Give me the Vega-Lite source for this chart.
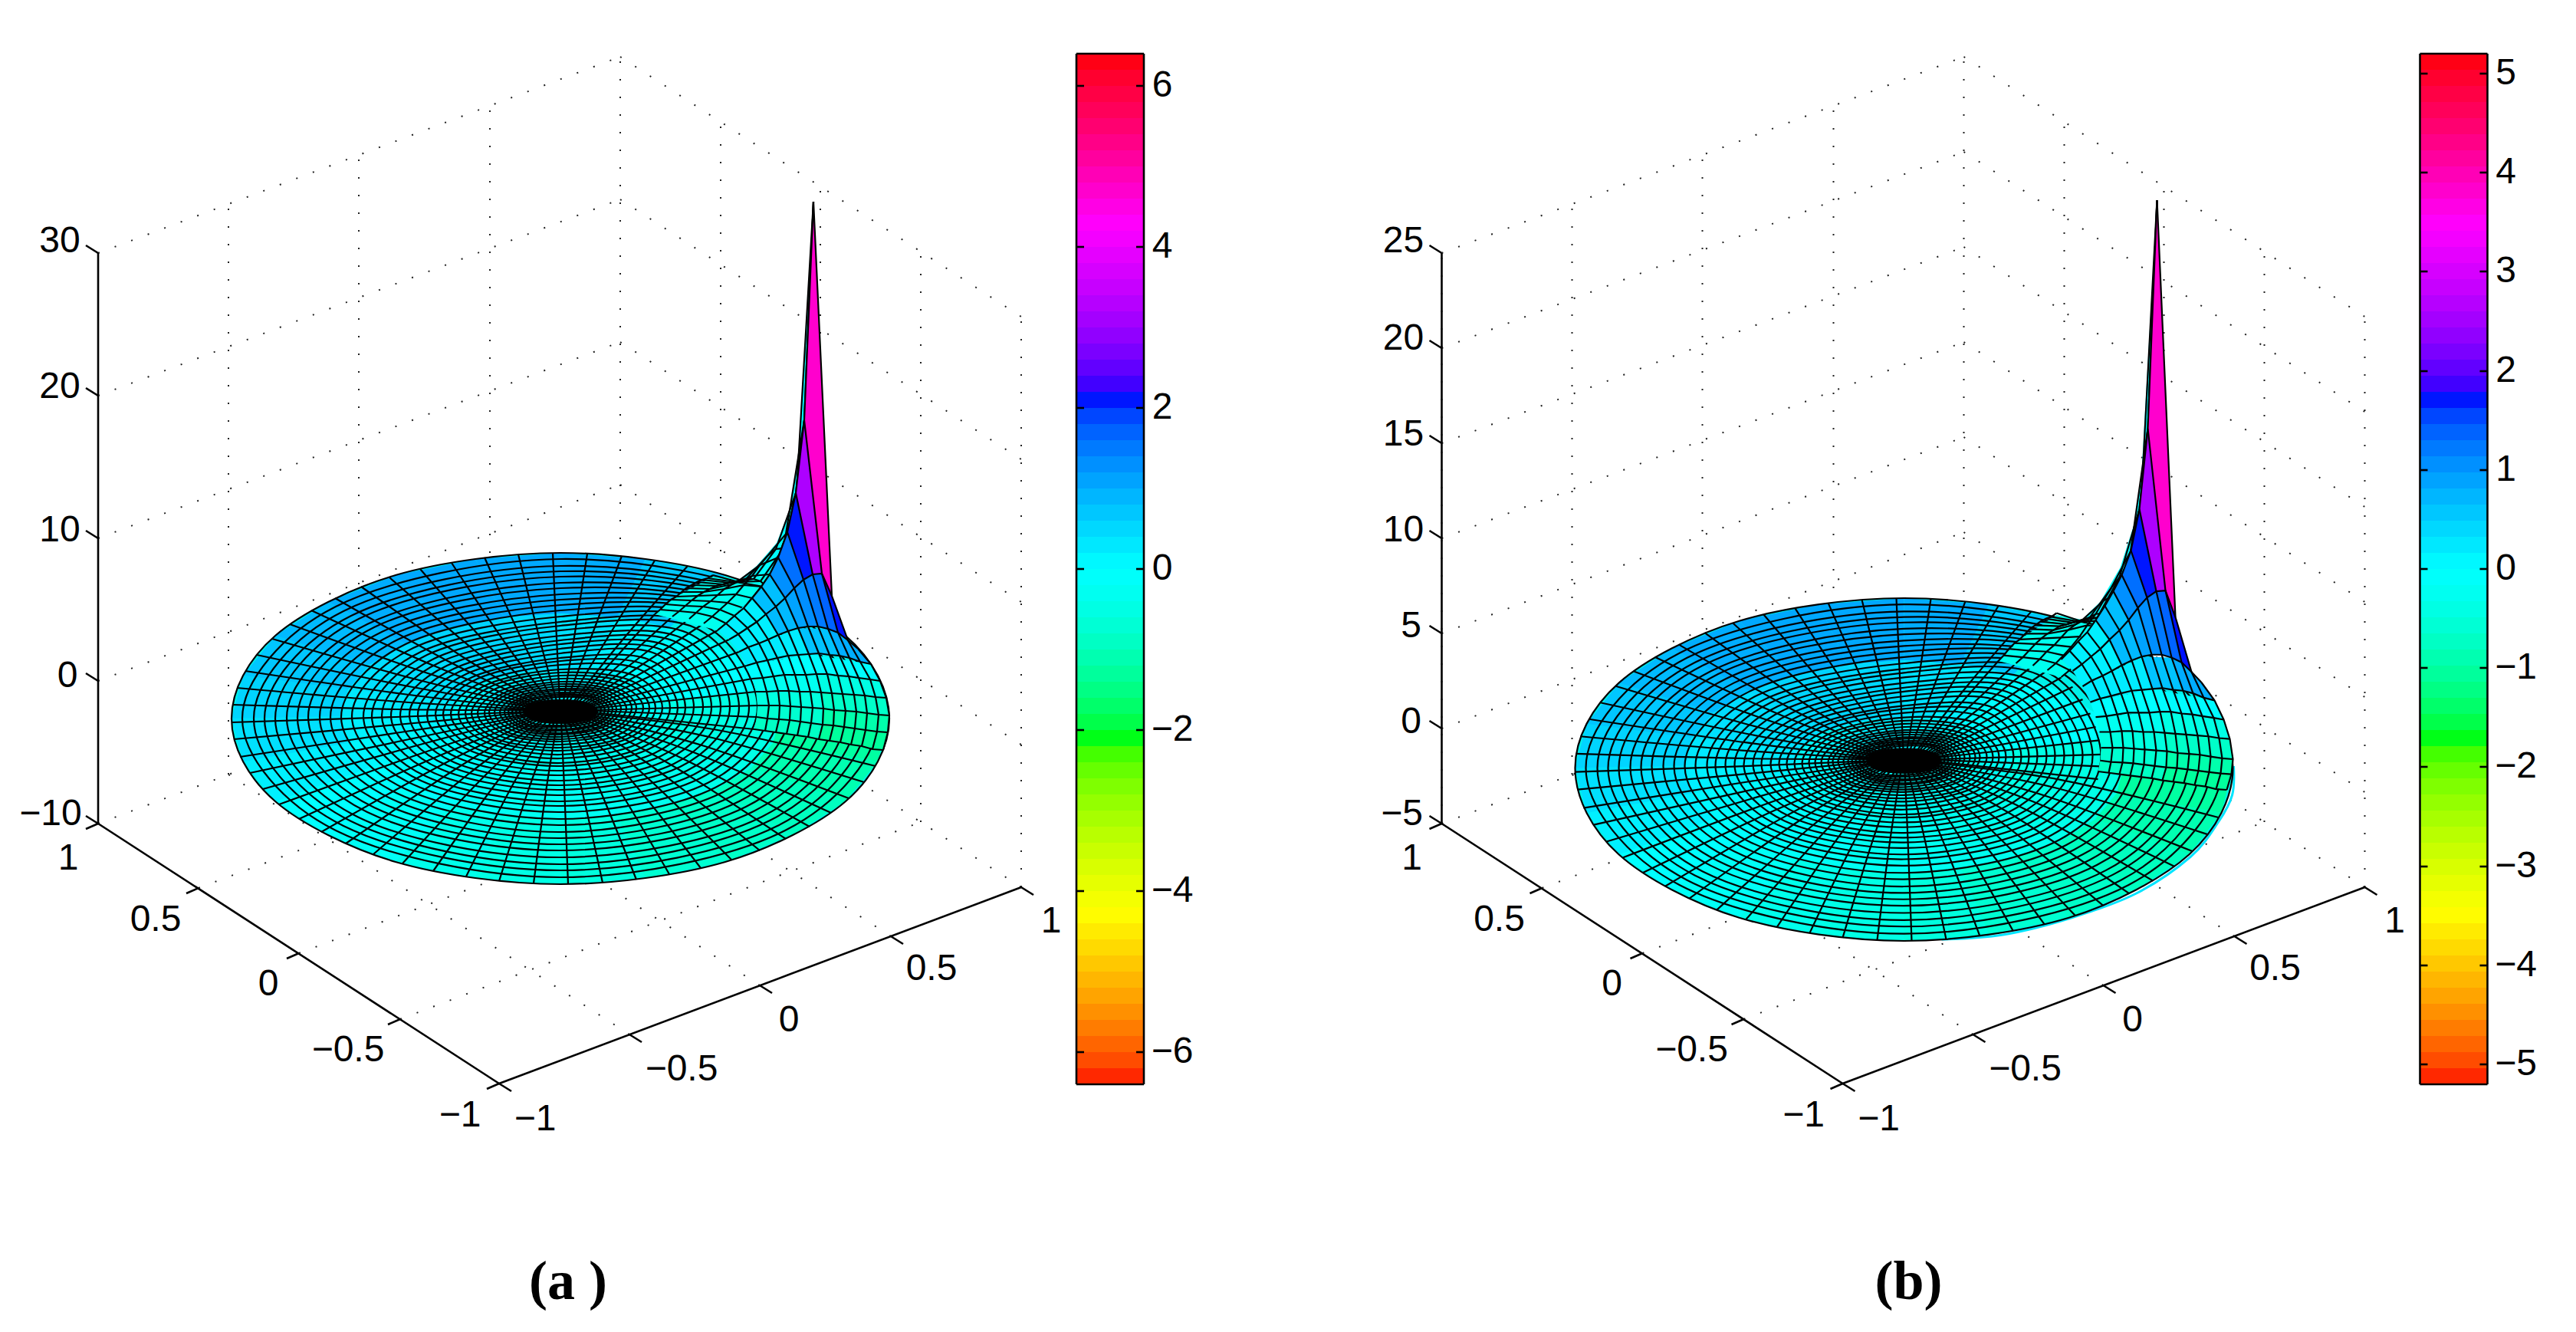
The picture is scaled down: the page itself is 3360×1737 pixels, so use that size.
{"$schema":"https://vega.github.io/schema/vega-lite/v6.json","padding":0,"spacing":0,"background":"white","config":{"view":{"stroke":null},"concat":{"spacing":0}},
"datasets":{
"dots":[{"x":128,"y":1074,"x2":128,"y2":330},{"x":298,"y":1010,"x2":298,"y2":266},{"x":468,"y":946,"x2":468,"y2":202},{"x":639,"y":882,"x2":639,"y2":138},{"x":809,"y":818,"x2":809,"y2":74},{"x":940,"y":903,"x2":940,"y2":159},{"x":1070,"y":987,"x2":1070,"y2":243},{"x":1201,"y":1072,"x2":1201,"y2":328},{"x":1332,"y":1157,"x2":1332,"y2":413},{"x":259,"y":1158,"x2":940,"y2":903},{"x":390,"y":1243,"x2":1070,"y2":987},{"x":522,"y":1329,"x2":1201,"y2":1072},{"x":821,"y":1349,"x2":298,"y2":1010},{"x":991,"y":1285,"x2":468,"y2":946},{"x":1162,"y":1221,"x2":639,"y2":882}],
"la":[{"x":128,"y":330,"x2":809,"y2":74},{"x":809,"y":74,"x2":1332,"y2":413},{"x":128,"y":516,"x2":809,"y2":260},{"x":809,"y":260,"x2":1332,"y2":599},{"x":128,"y":702,"x2":809,"y2":446},{"x":809,"y":446,"x2":1332,"y2":785},{"x":128,"y":888,"x2":809,"y2":632},{"x":809,"y":632,"x2":1332,"y2":971},{"x":128,"y":1074,"x2":809,"y2":818},{"x":809,"y":818,"x2":1332,"y2":1157}],
"lb":[{"x":128,"y":330,"x2":809,"y2":74},{"x":809,"y":74,"x2":1332,"y2":413},{"x":128,"y":454,"x2":809,"y2":198},{"x":809,"y":198,"x2":1332,"y2":537},{"x":128,"y":578,"x2":809,"y2":322},{"x":809,"y":322,"x2":1332,"y2":661},{"x":128,"y":702,"x2":809,"y2":446},{"x":809,"y":446,"x2":1332,"y2":785},{"x":128,"y":826,"x2":809,"y2":570},{"x":809,"y":570,"x2":1332,"y2":909},{"x":128,"y":950,"x2":809,"y2":694},{"x":809,"y":694,"x2":1332,"y2":1033},{"x":128,"y":1074,"x2":809,"y2":818},{"x":809,"y":818,"x2":1332,"y2":1157}],
"ax":[{"x":128,"y":330,"x2":128,"y2":1074},{"x":128,"y":1074,"x2":651,"y2":1413},{"x":651,"y":1413,"x2":1332,"y2":1157},{"x":128,"y":1074,"x2":112,"y2":1081},{"x":259,"y":1158,"x2":243,"y2":1165},{"x":390,"y":1243,"x2":374,"y2":1250},{"x":522,"y":1329,"x2":506,"y2":1336},{"x":651,"y":1413,"x2":635,"y2":1420},{"x":651,"y":1413,"x2":667,"y2":1423},{"x":821,"y":1349,"x2":837,"y2":1359},{"x":991,"y":1285,"x2":1007,"y2":1295},{"x":1162,"y":1221,"x2":1178,"y2":1231},{"x":1332,"y":1157,"x2":1348,"y2":1167},{"x":1404,"y":70,"x2":1492,"y2":70},{"x":1404,"y":1414,"x2":1492,"y2":1414},{"x":1404,"y":70,"x2":1404,"y2":1414},{"x":1492,"y":70,"x2":1492,"y2":1414}],
"ta":[{"x":128,"y":330,"x2":112,"y2":320},{"x":128,"y":516,"x2":112,"y2":506},{"x":128,"y":702,"x2":112,"y2":692},{"x":128,"y":888,"x2":112,"y2":878},{"x":128,"y":1074,"x2":112,"y2":1064},{"x":1404,"y":112,"x2":1414,"y2":112},{"x":1482,"y":112,"x2":1492,"y2":112},{"x":1404,"y":322,"x2":1414,"y2":322},{"x":1482,"y":322,"x2":1492,"y2":322},{"x":1404,"y":532,"x2":1414,"y2":532},{"x":1482,"y":532,"x2":1492,"y2":532},{"x":1404,"y":742,"x2":1414,"y2":742},{"x":1482,"y":742,"x2":1492,"y2":742},{"x":1404,"y":952,"x2":1414,"y2":952},{"x":1482,"y":952,"x2":1492,"y2":952},{"x":1404,"y":1162,"x2":1414,"y2":1162},{"x":1482,"y":1162,"x2":1492,"y2":1162},{"x":1404,"y":1372,"x2":1414,"y2":1372},{"x":1482,"y":1372,"x2":1492,"y2":1372}],
"tb":[{"x":128,"y":330,"x2":112,"y2":320},{"x":128,"y":454,"x2":112,"y2":444},{"x":128,"y":578,"x2":112,"y2":568},{"x":128,"y":702,"x2":112,"y2":692},{"x":128,"y":826,"x2":112,"y2":816},{"x":128,"y":950,"x2":112,"y2":940},{"x":128,"y":1074,"x2":112,"y2":1064},{"x":1404,"y":96,"x2":1414,"y2":96},{"x":1482,"y":96,"x2":1492,"y2":96},{"x":1404,"y":225,"x2":1414,"y2":225},{"x":1482,"y":225,"x2":1492,"y2":225},{"x":1404,"y":354,"x2":1414,"y2":354},{"x":1482,"y":354,"x2":1492,"y2":354},{"x":1404,"y":484,"x2":1414,"y2":484},{"x":1482,"y":484,"x2":1492,"y2":484},{"x":1404,"y":613,"x2":1414,"y2":613},{"x":1482,"y":613,"x2":1492,"y2":613},{"x":1404,"y":742,"x2":1414,"y2":742},{"x":1482,"y":742,"x2":1492,"y2":742},{"x":1404,"y":871,"x2":1414,"y2":871},{"x":1482,"y":871,"x2":1492,"y2":871},{"x":1404,"y":1000,"x2":1414,"y2":1000},{"x":1482,"y":1000,"x2":1492,"y2":1000},{"x":1404,"y":1130,"x2":1414,"y2":1130},{"x":1482,"y":1130,"x2":1492,"y2":1130},{"x":1404,"y":1259,"x2":1414,"y2":1259},{"x":1482,"y":1259,"x2":1492,"y2":1259},{"x":1404,"y":1388,"x2":1414,"y2":1388},{"x":1482,"y":1388,"x2":1492,"y2":1388}],
"txa":[{"x":78,"y":315,"t":"30"},{"x":78,"y":505,"t":"20"},{"x":78,"y":692,"t":"10"},{"x":88,"y":882,"t":"0"},{"x":66,"y":1062,"t":"−10"},{"x":89,"y":1120,"t":"1"},{"x":203,"y":1200,"t":"0.5"},{"x":350,"y":1284,"t":"0"},{"x":454,"y":1370,"t":"−0.5"},{"x":600,"y":1455,"t":"−1"},{"x":698,"y":1460,"t":"−1"},{"x":889,"y":1395,"t":"−0.5"},{"x":1029,"y":1331,"t":"0"},{"x":1215,"y":1264,"t":"0.5"},{"x":1371,"y":1202,"t":"1"},{"x":1516,"y":112,"t":"6"},{"x":1516,"y":322,"t":"4"},{"x":1516,"y":532,"t":"2"},{"x":1516,"y":742,"t":"0"},{"x":1529,"y":952,"t":"−2"},{"x":1529,"y":1162,"t":"−4"},{"x":1529,"y":1372,"t":"−6"}],
"txb":[{"x":78,"y":315,"t":"25"},{"x":78,"y":442,"t":"20"},{"x":78,"y":567,"t":"15"},{"x":78,"y":692,"t":"10"},{"x":88,"y":817,"t":"5"},{"x":88,"y":942,"t":"0"},{"x":76,"y":1062,"t":"−5"},{"x":89,"y":1120,"t":"1"},{"x":203,"y":1200,"t":"0.5"},{"x":350,"y":1284,"t":"0"},{"x":454,"y":1370,"t":"−0.5"},{"x":600,"y":1455,"t":"−1"},{"x":698,"y":1460,"t":"−1"},{"x":889,"y":1395,"t":"−0.5"},{"x":1029,"y":1331,"t":"0"},{"x":1215,"y":1264,"t":"0.5"},{"x":1371,"y":1202,"t":"1"},{"x":1516,"y":96,"t":"5"},{"x":1516,"y":225,"t":"4"},{"x":1516,"y":354,"t":"3"},{"x":1516,"y":484,"t":"2"},{"x":1516,"y":613,"t":"1"},{"x":1516,"y":742,"t":"0"},{"x":1529,"y":871,"t":"−1"},{"x":1529,"y":1000,"t":"−2"},{"x":1529,"y":1130,"t":"−3"},{"x":1529,"y":1259,"t":"−4"},{"x":1529,"y":1388,"t":"−5"}],
"sl":[{"x":1161,"y":999},{"x":1159,"y":1037},{"x":1141,"y":1072},{"x":1105,"y":1117},{"x":1034,"y":1165},{"x":949,"y":1197},{"x":860,"y":1219},{"x":780,"y":1225}],
"bar":[{"v":6.3},{"v":6.1},{"v":5.9},{"v":5.7},{"v":5.5},{"v":5.3},{"v":5.1},{"v":4.9},{"v":4.7},{"v":4.5},{"v":4.3},{"v":4.1},{"v":3.9},{"v":3.7},{"v":3.5},{"v":3.3},{"v":3.1},{"v":2.9},{"v":2.7},{"v":2.5},{"v":2.3},{"v":2.1},{"v":1.9},{"v":1.7},{"v":1.5},{"v":1.3},{"v":1.1},{"v":0.9},{"v":0.7},{"v":0.5},{"v":0.3},{"v":0.1},{"v":-0.1},{"v":-0.3},{"v":-0.5},{"v":-0.7},{"v":-0.9},{"v":-1.1},{"v":-1.3},{"v":-1.5},{"v":-1.7},{"v":-1.9},{"v":-2.1},{"v":-2.3},{"v":-2.5},{"v":-2.7},{"v":-2.9},{"v":-3.1},{"v":-3.3},{"v":-3.5},{"v":-3.7},{"v":-3.9},{"v":-4.1},{"v":-4.3},{"v":-4.5},{"v":-4.7},{"v":-4.9},{"v":-5.1},{"v":-5.3},{"v":-5.5},{"v":-5.7},{"v":-5.9},{"v":-6.1},{"v":-6.3}],
"ring":[
{"k":0,"x":1160,"y":937},{"k":0,"x":1145,"y":993},{"k":0,"x":1103,"y":1045},{"k":0,"x":1034,"y":1089},{"k":0,"x":946,"y":1124},{"k":0,"x":842,"y":1145},{"k":0,"x":731,"y":1153},{"k":0,"x":620,"y":1145},{"k":0,"x":516,"y":1124},{"k":0,"x":428,"y":1089},{"k":0,"x":359,"y":1045},{"k":0,"x":317,"y":993},{"k":0,"x":302,"y":937},{"k":0,"x":317,"y":881},{"k":0,"x":359,"y":829},{"k":0,"x":428,"y":785},{"k":0,"x":516,"y":750},{"k":0,"x":620,"y":729},{"k":0,"x":731,"y":721},{"k":0,"x":842,"y":729},{"k":0,"x":946,"y":750},{"k":0,"x":1034,"y":785},{"k":0,"x":1103,"y":829},{"k":0,"x":1145,"y":881},
{"k":1,"x":1146,"y":935},{"k":1,"x":1024,"y":1083},{"k":1,"x":731,"y":1144},{"k":1,"x":438,"y":1083},{"k":1,"x":316,"y":937},{"k":1,"x":438,"y":791},{"k":1,"x":731,"y":729},{"k":1,"x":1024,"y":785},
{"k":2,"x":1131,"y":934},{"k":2,"x":1014,"y":1077},{"k":2,"x":731,"y":1135},{"k":2,"x":448,"y":1077},{"k":2,"x":331,"y":937},{"k":2,"x":448,"y":797},{"k":2,"x":731,"y":738},{"k":2,"x":1014,"y":788},
{"k":3,"x":1117,"y":932},{"k":3,"x":1004,"y":1070},{"k":3,"x":731,"y":1127},{"k":3,"x":458,"y":1071},{"k":3,"x":345,"y":937},{"k":3,"x":458,"y":803},{"k":3,"x":731,"y":745},{"k":3,"x":1004,"y":790},
{"k":4,"x":1103,"y":931},{"k":4,"x":994,"y":1065},{"k":4,"x":731,"y":1118},{"k":4,"x":468,"y":1066},{"k":4,"x":359,"y":937},{"k":4,"x":468,"y":807},{"k":4,"x":731,"y":752},{"k":4,"x":994,"y":792},
{"k":5,"x":1088,"y":930},{"k":5,"x":983,"y":1058},{"k":5,"x":731,"y":1109},{"k":5,"x":479,"y":1059},{"k":5,"x":374,"y":936},{"k":5,"x":479,"y":814},{"k":5,"x":731,"y":760},{"k":5,"x":983,"y":794},
{"k":6,"x":1074,"y":928},{"k":6,"x":973,"y":1052},{"k":6,"x":731,"y":1101},{"k":6,"x":488,"y":1053},{"k":6,"x":388,"y":936},{"k":6,"x":488,"y":818},{"k":6,"x":731,"y":767},{"k":6,"x":973,"y":796},
{"k":7,"x":1060,"y":927},{"k":7,"x":964,"y":1045},{"k":7,"x":731,"y":1093},{"k":7,"x":498,"y":1047},{"k":7,"x":402,"y":935},{"k":7,"x":498,"y":824},{"k":7,"x":731,"y":775},{"k":7,"x":964,"y":797},
{"k":8,"x":1045,"y":925},{"k":8,"x":953,"y":1039},{"k":8,"x":731,"y":1085},{"k":8,"x":509,"y":1041},{"k":8,"x":417,"y":935},{"k":8,"x":509,"y":829},{"k":8,"x":731,"y":782},{"k":8,"x":953,"y":801},
{"k":9,"x":1031,"y":924},{"k":9,"x":943,"y":1033},{"k":9,"x":731,"y":1076},{"k":9,"x":519,"y":1035},{"k":9,"x":431,"y":935},{"k":9,"x":519,"y":834},{"k":9,"x":731,"y":789},{"k":9,"x":943,"y":802},
{"k":10,"x":1017,"y":923},{"k":10,"x":933,"y":1027},{"k":10,"x":731,"y":1068},{"k":10,"x":529,"y":1029},{"k":10,"x":445,"y":935},{"k":10,"x":529,"y":840},{"k":10,"x":731,"y":796},{"k":10,"x":933,"y":806},
{"k":11,"x":1003,"y":922},{"k":11,"x":923,"y":1021},{"k":11,"x":731,"y":1059},{"k":11,"x":539,"y":1023},{"k":11,"x":459,"y":934},{"k":11,"x":539,"y":845},{"k":11,"x":731,"y":804},{"k":11,"x":923,"y":809},
{"k":12,"x":988,"y":922},{"k":12,"x":913,"y":1015},{"k":12,"x":731,"y":1051},{"k":12,"x":549,"y":1018},{"k":12,"x":474,"y":934},{"k":12,"x":549,"y":850},{"k":12,"x":731,"y":811},{"k":12,"x":913,"y":813},
{"k":13,"x":977,"y":922},{"k":13,"x":905,"y":1010},{"k":13,"x":731,"y":1045},{"k":13,"x":557,"y":1013},{"k":13,"x":485,"y":934},{"k":13,"x":557,"y":854},{"k":13,"x":731,"y":816},{"k":13,"x":905,"y":818},
{"k":14,"x":964,"y":922},{"k":14,"x":896,"y":1005},{"k":14,"x":731,"y":1037},{"k":14,"x":566,"y":1008},{"k":14,"x":498,"y":933},{"k":14,"x":566,"y":859},{"k":14,"x":731,"y":822},{"k":14,"x":896,"y":825},
{"k":15,"x":952,"y":922},{"k":15,"x":887,"y":1000},{"k":15,"x":731,"y":1030},{"k":15,"x":575,"y":1003},{"k":15,"x":510,"y":933},{"k":15,"x":575,"y":863},{"k":15,"x":731,"y":829},{"k":15,"x":887,"y":831},
{"k":16,"x":940,"y":922},{"k":16,"x":879,"y":996},{"k":16,"x":731,"y":1024},{"k":16,"x":583,"y":998},{"k":16,"x":522,"y":933},{"k":16,"x":583,"y":868},{"k":16,"x":731,"y":835},{"k":16,"x":879,"y":836},
{"k":17,"x":928,"y":922},{"k":17,"x":870,"y":991},{"k":17,"x":731,"y":1018},{"k":17,"x":592,"y":994},{"k":17,"x":534,"y":932},{"k":17,"x":592,"y":872},{"k":17,"x":731,"y":840},{"k":17,"x":870,"y":842},
{"k":18,"x":917,"y":922},{"k":18,"x":862,"y":986},{"k":18,"x":731,"y":1011},{"k":18,"x":599,"y":989},{"k":18,"x":545,"y":932},{"k":18,"x":599,"y":876},{"k":18,"x":731,"y":846},{"k":18,"x":862,"y":847},
{"k":19,"x":905,"y":922},{"k":19,"x":854,"y":982},{"k":19,"x":731,"y":1005},{"k":19,"x":608,"y":985},{"k":19,"x":557,"y":932},{"k":19,"x":608,"y":879},{"k":19,"x":731,"y":852},{"k":19,"x":854,"y":852},
{"k":20,"x":894,"y":923},{"k":20,"x":846,"y":977},{"k":20,"x":731,"y":999},{"k":20,"x":616,"y":980},{"k":20,"x":568,"y":931},{"k":20,"x":616,"y":883},{"k":20,"x":731,"y":858},{"k":20,"x":846,"y":860},
{"k":21,"x":884,"y":923},{"k":21,"x":839,"y":974},{"k":21,"x":731,"y":995},{"k":21,"x":623,"y":977},{"k":21,"x":578,"y":931},{"k":21,"x":623,"y":885},{"k":21,"x":731,"y":862},{"k":21,"x":839,"y":866},
{"k":22,"x":874,"y":923},{"k":22,"x":832,"y":970},{"k":22,"x":731,"y":989},{"k":22,"x":630,"y":973},{"k":22,"x":588,"y":931},{"k":22,"x":630,"y":889},{"k":22,"x":731,"y":867},{"k":22,"x":832,"y":872},
{"k":23,"x":864,"y":923},{"k":23,"x":825,"y":966},{"k":23,"x":731,"y":984},{"k":23,"x":637,"y":969},{"k":23,"x":598,"y":931},{"k":23,"x":637,"y":892},{"k":23,"x":731,"y":873},{"k":23,"x":825,"y":880},
{"k":24,"x":855,"y":923},{"k":24,"x":819,"y":963},{"k":24,"x":731,"y":979},{"k":24,"x":643,"y":966},{"k":24,"x":607,"y":930},{"k":24,"x":643,"y":894},{"k":24,"x":731,"y":877},{"k":24,"x":819,"y":886},
{"k":25,"x":847,"y":923},{"k":25,"x":813,"y":961},{"k":25,"x":731,"y":975},{"k":25,"x":649,"y":964},{"k":25,"x":615,"y":930},{"k":25,"x":649,"y":897},{"k":25,"x":731,"y":881},{"k":25,"x":813,"y":889},
{"k":26,"x":839,"y":923},{"k":26,"x":807,"y":958},{"k":26,"x":731,"y":971},{"k":26,"x":655,"y":961},{"k":26,"x":623,"y":930},{"k":26,"x":655,"y":900},{"k":26,"x":731,"y":885},{"k":26,"x":807,"y":893},
{"k":27,"x":830,"y":923},{"k":27,"x":801,"y":955},{"k":27,"x":731,"y":967},{"k":27,"x":661,"y":958},{"k":27,"x":632,"y":930},{"k":27,"x":661,"y":902},{"k":27,"x":731,"y":889},{"k":27,"x":801,"y":896},
{"k":28,"x":824,"y":923},{"k":28,"x":797,"y":953},{"k":28,"x":731,"y":964},{"k":28,"x":665,"y":956},{"k":28,"x":638,"y":929},{"k":28,"x":665,"y":904},{"k":28,"x":731,"y":892},{"k":28,"x":797,"y":899},
{"k":29,"x":817,"y":924},{"k":29,"x":792,"y":950},{"k":29,"x":731,"y":961},{"k":29,"x":670,"y":953},{"k":29,"x":645,"y":929},{"k":29,"x":670,"y":906},{"k":29,"x":731,"y":895},{"k":29,"x":792,"y":901},
{"k":30,"x":810,"y":924},{"k":30,"x":787,"y":948},{"k":30,"x":731,"y":958},{"k":30,"x":675,"y":951},{"k":30,"x":652,"y":929},{"k":30,"x":675,"y":908},{"k":30,"x":731,"y":898},{"k":30,"x":787,"y":903},
{"k":31,"x":804,"y":925},{"k":31,"x":783,"y":947},{"k":31,"x":731,"y":956},{"k":31,"x":679,"y":949},{"k":31,"x":658,"y":929},{"k":31,"x":679,"y":910},{"k":31,"x":731,"y":900},{"k":31,"x":783,"y":905},
{"k":32,"x":799,"y":925},{"k":32,"x":779,"y":945},{"k":32,"x":731,"y":953},{"k":32,"x":683,"y":948},{"k":32,"x":663,"y":929},{"k":32,"x":683,"y":911},{"k":32,"x":731,"y":903},{"k":32,"x":779,"y":907},
{"k":33,"x":794,"y":925},{"k":33,"x":776,"y":944},{"k":33,"x":731,"y":951},{"k":33,"x":686,"y":946},{"k":33,"x":668,"y":929},{"k":33,"x":686,"y":913},{"k":33,"x":731,"y":905},{"k":33,"x":776,"y":909},
{"k":34,"x":789,"y":926},{"k":34,"x":772,"y":942},{"k":34,"x":731,"y":948},{"k":34,"x":690,"y":945},{"k":34,"x":673,"y":929},{"k":34,"x":690,"y":914},{"k":34,"x":731,"y":907},{"k":34,"x":772,"y":910},
{"k":35,"x":784,"y":926},{"k":35,"x":769,"y":940},{"k":35,"x":731,"y":946},{"k":35,"x":694,"y":943},{"k":35,"x":678,"y":928},{"k":35,"x":694,"y":916},{"k":35,"x":731,"y":909},{"k":35,"x":769,"y":912},
{"k":36,"x":779,"y":928},{"k":36,"x":765,"y":939},{"k":36,"x":731,"y":943},{"k":36,"x":697,"y":939},{"k":36,"x":683,"y":928},{"k":36,"x":697,"y":917},{"k":36,"x":731,"y":913},{"k":36,"x":765,"y":917}],
"spoke":[
{"s":1,"x":1142,"y":999},{"s":1,"x":936,"y":952},{"s":1,"x":772,"y":931},
{"s":2,"x":1127,"y":1020},{"s":2,"x":929,"y":962},{"s":2,"x":771,"y":933},
{"s":3,"x":1107,"y":1041},{"s":3,"x":919,"y":973},{"s":3,"x":769,"y":934},
{"s":4,"x":1084,"y":1060},{"s":4,"x":907,"y":982},{"s":4,"x":766,"y":935},
{"s":5,"x":1056,"y":1078},{"s":5,"x":894,"y":991},{"s":5,"x":764,"y":936},
{"s":6,"x":1025,"y":1094},{"s":6,"x":878,"y":999},{"s":6,"x":761,"y":937},
{"s":7,"x":991,"y":1109},{"s":7,"x":861,"y":1007},{"s":7,"x":757,"y":938},
{"s":8,"x":954,"y":1121},{"s":8,"x":842,"y":1012},{"s":8,"x":753,"y":939},
{"s":9,"x":914,"y":1132},{"s":9,"x":823,"y":1017},{"s":9,"x":749,"y":940},
{"s":10,"x":873,"y":1140},{"s":10,"x":802,"y":1021},{"s":10,"x":745,"y":940},
{"s":11,"x":830,"y":1147},{"s":11,"x":780,"y":1024},{"s":11,"x":741,"y":941},
{"s":12,"x":786,"y":1151},{"s":12,"x":758,"y":1026},{"s":12,"x":736,"y":941},
{"s":13,"x":741,"y":1153},{"s":13,"x":736,"y":1027},{"s":13,"x":732,"y":941},
{"s":14,"x":696,"y":1152},{"s":14,"x":713,"y":1026},{"s":14,"x":727,"y":941},
{"s":15,"x":651,"y":1149},{"s":15,"x":691,"y":1025},{"s":15,"x":723,"y":941},
{"s":16,"x":608,"y":1143},{"s":16,"x":669,"y":1023},{"s":16,"x":719,"y":941},
{"s":17,"x":565,"y":1136},{"s":17,"x":648,"y":1020},{"s":17,"x":714,"y":940},
{"s":18,"x":525,"y":1126},{"s":18,"x":628,"y":1016},{"s":18,"x":710,"y":939},
{"s":19,"x":487,"y":1114},{"s":19,"x":609,"y":1011},{"s":19,"x":707,"y":939},
{"s":20,"x":451,"y":1100},{"s":20,"x":591,"y":1005},{"s":20,"x":703,"y":938},
{"s":21,"x":419,"y":1085},{"s":21,"x":575,"y":998},{"s":21,"x":700,"y":937},
{"s":22,"x":390,"y":1068},{"s":22,"x":560,"y":991},{"s":22,"x":697,"y":936},
{"s":23,"x":364,"y":1049},{"s":23,"x":548,"y":983},{"s":23,"x":694,"y":935},
{"s":24,"x":343,"y":1029},{"s":24,"x":537,"y":974},{"s":24,"x":692,"y":933},
{"s":25,"x":326,"y":1008},{"s":25,"x":529,"y":965},{"s":25,"x":690,"y":932},
{"s":26,"x":313,"y":987},{"s":26,"x":522,"y":955},{"s":26,"x":689,"y":931},
{"s":27,"x":305,"y":964},{"s":27,"x":518,"y":945},{"s":27,"x":688,"y":929},
{"s":28,"x":302,"y":942},{"s":28,"x":516,"y":935},{"s":28,"x":688,"y":928},
{"s":29,"x":303,"y":919},{"s":29,"x":517,"y":925},{"s":29,"x":688,"y":926},
{"s":30,"x":309,"y":897},{"s":30,"x":520,"y":915},{"s":30,"x":689,"y":925},
{"s":31,"x":320,"y":875},{"s":31,"x":526,"y":905},{"s":31,"x":690,"y":924},
{"s":32,"x":335,"y":854},{"s":32,"x":533,"y":895},{"s":32,"x":691,"y":922},
{"s":33,"x":355,"y":833},{"s":33,"x":543,"y":886},{"s":33,"x":693,"y":921},
{"s":34,"x":378,"y":814},{"s":34,"x":555,"y":877},{"s":34,"x":696,"y":920},
{"s":35,"x":406,"y":796},{"s":35,"x":568,"y":869},{"s":35,"x":698,"y":919},
{"s":36,"x":437,"y":780},{"s":36,"x":584,"y":862},{"s":36,"x":701,"y":918},
{"s":37,"x":471,"y":765},{"s":37,"x":601,"y":855},{"s":37,"x":705,"y":917},
{"s":38,"x":508,"y":753},{"s":38,"x":620,"y":849},{"s":38,"x":709,"y":916},
{"s":39,"x":548,"y":742},{"s":39,"x":639,"y":844},{"s":39,"x":713,"y":915},
{"s":40,"x":589,"y":734},{"s":40,"x":660,"y":840},{"s":40,"x":717,"y":915},
{"s":41,"x":632,"y":727},{"s":41,"x":682,"y":837},{"s":41,"x":721,"y":914},
{"s":42,"x":676,"y":723},{"s":42,"x":704,"y":834},{"s":42,"x":726,"y":914},
{"s":43,"x":721,"y":721},{"s":43,"x":726,"y":832},{"s":43,"x":730,"y":914},
{"s":44,"x":766,"y":722},{"s":44,"x":749,"y":831},{"s":44,"x":735,"y":914},
{"s":45,"x":811,"y":725},{"s":45,"x":771,"y":831},{"s":45,"x":739,"y":914},
{"s":46,"x":854,"y":731},{"s":46,"x":793,"y":831},{"s":46,"x":743,"y":914},
{"s":47,"x":897,"y":738},{"s":47,"x":814,"y":832},{"s":47,"x":748,"y":915},
{"s":48,"x":854,"y":801},{"s":48,"x":752,"y":914},{"s":49,"x":877,"y":804},{"s":49,"x":755,"y":915},{"s":50,"x":899,"y":807},{"s":50,"x":759,"y":916},{"s":51,"x":918,"y":813},{"s":51,"x":762,"y":917},{"s":52,"x":936,"y":822},{"s":52,"x":765,"y":918},{"s":53,"x":951,"y":834},{"s":53,"x":768,"y":919},{"s":54,"x":964,"y":850},{"s":54,"x":770,"y":920},{"s":55,"x":974,"y":868},{"s":55,"x":772,"y":921},{"s":56,"x":981,"y":885},{"s":56,"x":773,"y":923},{"s":57,"x":986,"y":902},{"s":57,"x":774,"y":924},{"s":58,"x":988,"y":920},{"s":58,"x":774,"y":926},{"s":59,"x":987,"y":935},{"s":59,"x":774,"y":927},{"s":60,"x":984,"y":951},{"s":60,"x":773,"y":929}],
"cell":[
{"v":-1.25,"x":1018,"y":934},{"v":-1.25,"x":1160,"y":937},{"v":-1.25,"x":1145,"y":993},{"v":-1.25,"x":1008,"y":969},
{"v":-1.1,"x":1008,"y":969},{"v":-1.1,"x":1145,"y":993},{"v":-1.1,"x":1103,"y":1045},{"v":-1.1,"x":980,"y":1001},
{"v":-0.95,"x":980,"y":1001},{"v":-0.95,"x":1103,"y":1045},{"v":-0.95,"x":1034,"y":1089},{"v":-0.95,"x":934,"y":1029},
{"v":-0.86,"x":934,"y":1029},{"v":-0.86,"x":1034,"y":1089},{"v":-0.86,"x":946,"y":1124},{"v":-0.86,"x":874,"y":1050},
{"v":-0.75,"x":874,"y":1050},{"v":-0.75,"x":946,"y":1124},{"v":-0.75,"x":842,"y":1145},{"v":-0.75,"x":805,"y":1063},
{"v":-0.6,"x":805,"y":1063},{"v":-0.6,"x":842,"y":1145},{"v":-0.6,"x":731,"y":1153},{"v":-0.6,"x":731,"y":1068},
{"v":-0.5,"x":731,"y":1068},{"v":-0.5,"x":731,"y":1153},{"v":-0.5,"x":620,"y":1145},{"v":-0.5,"x":657,"y":1063},
{"v":-0.4,"x":657,"y":1063},{"v":-0.4,"x":620,"y":1145},{"v":-0.4,"x":516,"y":1124},{"v":-0.4,"x":588,"y":1050},
{"v":-0.2,"x":588,"y":1050},{"v":-0.2,"x":516,"y":1124},{"v":-0.2,"x":428,"y":1089},{"v":-0.2,"x":528,"y":1029},
{"v":0.001,"x":528,"y":1029},{"v":0.001,"x":428,"y":1089},{"v":0.001,"x":359,"y":1045},{"v":0.001,"x":482,"y":1001},
{"v":0.2,"x":482,"y":1001},{"v":0.2,"x":359,"y":1045},{"v":0.2,"x":317,"y":993},{"v":0.2,"x":454,"y":969},
{"v":0.4,"x":454,"y":969},{"v":0.4,"x":317,"y":993},{"v":0.4,"x":302,"y":937},{"v":0.4,"x":444,"y":934},
{"v":0.55,"x":444,"y":934},{"v":0.55,"x":302,"y":937},{"v":0.55,"x":317,"y":881},{"v":0.55,"x":454,"y":899},
{"v":0.7,"x":454,"y":899},{"v":0.7,"x":317,"y":881},{"v":0.7,"x":359,"y":829},{"v":0.7,"x":482,"y":867},
{"v":0.85,"x":482,"y":867},{"v":0.85,"x":359,"y":829},{"v":0.85,"x":428,"y":785},{"v":0.85,"x":528,"y":839},
{"v":1,"x":528,"y":839},{"v":1,"x":428,"y":785},{"v":1,"x":516,"y":750},{"v":1,"x":588,"y":818},
{"v":1.05,"x":588,"y":818},{"v":1.05,"x":516,"y":750},{"v":1.05,"x":620,"y":729},{"v":1.05,"x":657,"y":805},
{"v":1.051,"x":657,"y":805},{"v":1.051,"x":620,"y":729},{"v":1.051,"x":731,"y":721},{"v":1.051,"x":731,"y":800},
{"v":1.001,"x":731,"y":800},{"v":1.001,"x":731,"y":721},{"v":1.001,"x":842,"y":729},{"v":1.001,"x":805,"y":805},
{"v":0.701,"x":805,"y":805},{"v":0.701,"x":842,"y":729},{"v":0.701,"x":946,"y":750},{"v":0.701,"x":874,"y":818},
{"v":-0.503,"x":873,"y":930},{"v":-0.503,"x":1018,"y":934},{"v":-0.503,"x":1008,"y":969},{"v":-0.503,"x":868,"y":945},
{"v":-0.453,"x":868,"y":945},{"v":-0.453,"x":1008,"y":969},{"v":-0.453,"x":980,"y":1001},{"v":-0.453,"x":854,"y":959},
{"v":-0.403,"x":854,"y":959},{"v":-0.403,"x":980,"y":1001},{"v":-0.403,"x":934,"y":1029},{"v":-0.403,"x":831,"y":970},
{"v":-0.353,"x":831,"y":970},{"v":-0.353,"x":934,"y":1029},{"v":-0.353,"x":874,"y":1050},{"v":-0.353,"x":802,"y":979},
{"v":-0.323,"x":802,"y":979},{"v":-0.323,"x":874,"y":1050},{"v":-0.323,"x":805,"y":1063},{"v":-0.323,"x":768,"y":985},
{"v":-0.283,"x":768,"y":985},{"v":-0.283,"x":805,"y":1063},{"v":-0.283,"x":731,"y":1068},{"v":-0.283,"x":731,"y":987},
{"v":-0.301,"x":731,"y":987},{"v":-0.301,"x":731,"y":1068},{"v":-0.301,"x":657,"y":1063},{"v":-0.301,"x":694,"y":985},
{"v":-0.201,"x":694,"y":985},{"v":-0.201,"x":657,"y":1063},{"v":-0.201,"x":588,"y":1050},{"v":-0.201,"x":660,"y":979},
{"v":-0.101,"x":660,"y":979},{"v":-0.101,"x":588,"y":1050},{"v":-0.101,"x":528,"y":1029},{"v":-0.101,"x":631,"y":970},
{"v":0.002,"x":631,"y":970},{"v":0.002,"x":528,"y":1029},{"v":0.002,"x":482,"y":1001},{"v":0.002,"x":608,"y":959},
{"v":0.101,"x":608,"y":959},{"v":0.101,"x":482,"y":1001},{"v":0.101,"x":454,"y":969},{"v":0.101,"x":594,"y":945},
{"v":0.201,"x":594,"y":945},{"v":0.201,"x":454,"y":969},{"v":0.201,"x":444,"y":934},{"v":0.201,"x":589,"y":930},
{"v":0.301,"x":589,"y":930},{"v":0.301,"x":444,"y":934},{"v":0.301,"x":454,"y":899},{"v":0.301,"x":594,"y":915},
{"v":0.401,"x":594,"y":915},{"v":0.401,"x":454,"y":899},{"v":0.401,"x":482,"y":867},{"v":0.401,"x":608,"y":902},
{"v":0.451,"x":608,"y":902},{"v":0.451,"x":482,"y":867},{"v":0.451,"x":528,"y":839},{"v":0.451,"x":631,"y":890},
{"v":0.551,"x":631,"y":890},{"v":0.551,"x":528,"y":839},{"v":0.551,"x":588,"y":818},{"v":0.551,"x":660,"y":881},
{"v":0.552,"x":660,"y":881},{"v":0.552,"x":588,"y":818},{"v":0.552,"x":657,"y":805},{"v":0.552,"x":694,"y":875},
{"v":0.501,"x":694,"y":875},{"v":0.501,"x":657,"y":805},{"v":0.501,"x":731,"y":800},{"v":0.501,"x":731,"y":873},
{"v":0.402,"x":731,"y":873},{"v":0.402,"x":731,"y":800},{"v":0.402,"x":805,"y":805},{"v":0.402,"x":768,"y":875},
{"v":0.202,"x":768,"y":875},{"v":0.202,"x":805,"y":805},{"v":0.202,"x":874,"y":818},{"v":0.202,"x":802,"y":881},
{"v":0.003,"x":802,"y":881},{"v":0.003,"x":874,"y":818},{"v":0.003,"x":934,"y":839},{"v":0.003,"x":831,"y":890},
{"v":-0.051,"x":831,"y":890},{"v":-0.051,"x":934,"y":839},{"v":-0.051,"x":980,"y":867},{"v":-0.051,"x":854,"y":902},
{"v":0.004,"x":854,"y":902},{"v":0.004,"x":980,"y":867},{"v":0.004,"x":1008,"y":899},{"v":0.004,"x":868,"y":915},
{"v":-0.502,"x":868,"y":915},{"v":-0.502,"x":1008,"y":899},{"v":-0.502,"x":1018,"y":934},{"v":-0.502,"x":873,"y":930},
{"v":-0.251,"x":731,"y":927},{"v":-0.251,"x":873,"y":930},{"v":-0.251,"x":854,"y":959},
{"v":-0.202,"x":731,"y":927},{"v":-0.202,"x":854,"y":959},{"v":-0.202,"x":802,"y":979},
{"v":-0.151,"x":731,"y":927},{"v":-0.151,"x":802,"y":979},{"v":-0.151,"x":731,"y":987},
{"v":-0.102,"x":731,"y":927},{"v":-0.102,"x":731,"y":987},{"v":-0.102,"x":660,"y":979},
{"v":0.005,"x":731,"y":927},{"v":0.005,"x":660,"y":979},{"v":0.005,"x":608,"y":959},
{"v":0.051,"x":731,"y":927},{"v":0.051,"x":608,"y":959},{"v":0.051,"x":589,"y":930},
{"v":0.102,"x":731,"y":927},{"v":0.102,"x":589,"y":930},{"v":0.102,"x":608,"y":902},
{"v":0.152,"x":731,"y":927},{"v":0.152,"x":608,"y":902},{"v":0.152,"x":660,"y":881},
{"v":0.203,"x":731,"y":927},{"v":0.203,"x":660,"y":881},{"v":0.203,"x":731,"y":873},
{"v":0.153,"x":731,"y":927},{"v":0.153,"x":731,"y":873},{"v":0.153,"x":802,"y":881},
{"v":0.006,"x":731,"y":927},{"v":0.006,"x":802,"y":881},{"v":0.006,"x":854,"y":902},
{"v":-0.103,"x":731,"y":927},{"v":-0.103,"x":854,"y":902},{"v":-0.103,"x":873,"y":930}],
"bf":[
{"v":0.05,"x":1061,"y":263},{"v":0.05,"x":1041,"y":598},{"v":0.05,"x":1031,"y":662},{"v":0.05,"x":1013,"y":708},{"v":0.05,"x":987,"y":738},{"v":0.05,"x":963,"y":757},{"v":0.05,"x":1004,"y":749},{"v":0.05,"x":1015,"y":727},{"v":0.05,"x":1027,"y":694},{"v":0.05,"x":1038,"y":643},{"v":0.05,"x":1049,"y":548},
{"v":-0.35,"x":963,"y":757},{"v":-0.35,"x":1004,"y":749},{"v":-0.35,"x":981,"y":780},{"v":-0.35,"x":936,"y":822},{"v":-0.35,"x":854,"y":801},{"v":-0.35,"x":882,"y":778},{"v":-0.35,"x":930,"y":752}],
"ff":[
{"v":0.2,"x":981,"y":780},{"v":0.2,"x":999,"y":801},{"v":0.2,"x":951,"y":834},{"v":0.2,"x":936,"y":822},
{"v":0.205,"x":951,"y":834},{"v":0.205,"x":999,"y":801},{"v":0.205,"x":1015,"y":828},{"v":0.205,"x":964,"y":850},
{"v":0.25,"x":964,"y":850},{"v":0.25,"x":1041,"y":819},{"v":0.25,"x":1055,"y":853},{"v":0.25,"x":974,"y":868},
{"v":0,"x":974,"y":868},{"v":0,"x":1055,"y":853},{"v":0,"x":1065,"y":879},{"v":0,"x":981,"y":885},
{"v":-0.3,"x":981,"y":885},{"v":-0.3,"x":1065,"y":879},{"v":-0.3,"x":1071,"y":903},{"v":-0.3,"x":986,"y":902},
{"v":-0.55,"x":986,"y":902},{"v":-0.55,"x":1071,"y":903},{"v":-0.55,"x":1074,"y":924},{"v":-0.55,"x":988,"y":920},
{"v":-0.75,"x":988,"y":920},{"v":-0.75,"x":1074,"y":924},{"v":-0.75,"x":1073,"y":945},{"v":-0.75,"x":987,"y":935},
{"v":-0.9,"x":987,"y":935},{"v":-0.9,"x":1073,"y":945},{"v":-0.9,"x":1068,"y":964},{"v":-0.9,"x":984,"y":951},
{"v":-1.3,"x":1073,"y":945},{"v":-1.3,"x":1158,"y":955},{"v":-1.3,"x":1152,"y":978},{"v":-1.3,"x":1068,"y":964},
{"v":-1.15,"x":1074,"y":924},{"v":-1.15,"x":1160,"y":933},{"v":-1.15,"x":1158,"y":955},{"v":-1.15,"x":1073,"y":945},
{"v":-0.85,"x":1071,"y":903},{"v":-0.85,"x":1156,"y":910},{"v":-0.85,"x":1160,"y":933},{"v":-0.85,"x":1074,"y":924},
{"v":-0.5,"x":1065,"y":879},{"v":-0.5,"x":1148,"y":888},{"v":-0.5,"x":1156,"y":910},{"v":-0.5,"x":1071,"y":903},
{"v":0.05,"x":1055,"y":853},{"v":0.05,"x":1136,"y":866},{"v":0.05,"x":1148,"y":888},{"v":0.05,"x":1065,"y":879},
{"v":0.75,"x":1041,"y":819},{"v":0.75,"x":1080,"y":820},{"v":0.75,"x":1095,"y":855},{"v":0.75,"x":1055,"y":853},
{"v":1,"x":1080,"y":820},{"v":1,"x":1093,"y":825},{"v":1,"x":1106,"y":835},{"v":1,"x":1119,"y":846},{"v":1,"x":1136,"y":866},{"v":1,"x":1122,"y":863},{"v":1,"x":1108,"y":858},{"v":1,"x":1095,"y":855},
{"v":0.85,"x":999,"y":801},{"v":0.85,"x":1024,"y":780},{"v":0.85,"x":1041,"y":819},{"v":0.85,"x":1015,"y":828},
{"v":1.1,"x":1024,"y":780},{"v":1.1,"x":1036,"y":767},{"v":1.1,"x":1054,"y":817},{"v":1.1,"x":1041,"y":819},
{"v":1.31,"x":1036,"y":767},{"v":1.31,"x":1048,"y":756},{"v":1.31,"x":1067,"y":817},{"v":1.31,"x":1054,"y":817},
{"v":1.5,"x":1048,"y":756},{"v":1.5,"x":1060,"y":749},{"v":1.5,"x":1080,"y":820},{"v":1.5,"x":1067,"y":817},
{"v":1.7,"x":1060,"y":749},{"v":1.7,"x":1072,"y":748},{"v":1.7,"x":1093,"y":825},{"v":1.7,"x":1080,"y":820},
{"v":2.11,"x":1072,"y":748},{"v":2.11,"x":1085,"y":777},{"v":2.11,"x":1106,"y":835},{"v":2.11,"x":1093,"y":825},
{"v":0.8,"x":1004,"y":749},{"v":0.8,"x":1024,"y":780},{"v":0.8,"x":999,"y":801},{"v":0.8,"x":981,"y":780},
{"v":1.3,"x":1015,"y":727},{"v":1.3,"x":1036,"y":767},{"v":1.3,"x":1024,"y":780},{"v":1.3,"x":1004,"y":749},
{"v":1.6,"x":1027,"y":694},{"v":1.6,"x":1048,"y":756},{"v":1.6,"x":1036,"y":767},{"v":1.6,"x":1015,"y":727},
{"v":2.1,"x":1038,"y":643},{"v":2.1,"x":1060,"y":749},{"v":2.1,"x":1048,"y":756},{"v":2.1,"x":1027,"y":694},
{"v":3.2,"x":1049,"y":548},{"v":3.2,"x":1072,"y":748},{"v":3.2,"x":1060,"y":749},{"v":3.2,"x":1038,"y":643},
{"v":4.7,"x":1061,"y":263},{"v":4.7,"x":1085,"y":777},{"v":4.7,"x":1072,"y":748},{"v":4.7,"x":1049,"y":548}],
"g":[
{"r":0.6,"t":24,"x":854,"y":801},{"r":0.6,"t":18,"x":877,"y":804},{"r":0.6,"t":12,"x":899,"y":807},{"r":0.6,"t":6,"x":918,"y":813},{"r":0.6,"t":0,"x":936,"y":822},{"r":0.6,"t":-6,"x":951,"y":834},{"r":0.6,"t":-12,"x":964,"y":850},{"r":0.6,"t":-18,"x":974,"y":868},{"r":0.6,"t":-24,"x":981,"y":885},{"r":0.6,"t":-30,"x":986,"y":902},{"r":0.6,"t":-36,"x":988,"y":920},{"r":0.6,"t":-42,"x":987,"y":935},{"r":0.6,"t":-48,"x":984,"y":951},
{"r":0.633,"t":24,"x":861,"y":795},{"r":0.633,"t":18,"x":886,"y":797},{"r":0.633,"t":12,"x":908,"y":799},{"r":0.633,"t":6,"x":929,"y":804},{"r":0.633,"t":0,"x":947,"y":813},{"r":0.633,"t":-6,"x":963,"y":827},{"r":0.633,"t":-12,"x":976,"y":844},{"r":0.633,"t":-18,"x":987,"y":864},{"r":0.633,"t":-24,"x":995,"y":884},{"r":0.633,"t":-30,"x":1000,"y":902},{"r":0.633,"t":-36,"x":1003,"y":920},{"r":0.633,"t":-42,"x":1001,"y":937},{"r":0.633,"t":-48,"x":998,"y":953},
{"r":0.667,"t":24,"x":868,"y":788},{"r":0.667,"t":18,"x":894,"y":790},{"r":0.667,"t":12,"x":917,"y":791},{"r":0.667,"t":6,"x":939,"y":795},{"r":0.667,"t":0,"x":958,"y":803},{"r":0.667,"t":-6,"x":975,"y":819},{"r":0.667,"t":-12,"x":990,"y":839},{"r":0.667,"t":-18,"x":1001,"y":861},{"r":0.667,"t":-24,"x":1009,"y":882},{"r":0.667,"t":-30,"x":1015,"y":901},{"r":0.667,"t":-36,"x":1017,"y":920},{"r":0.667,"t":-42,"x":1016,"y":938},{"r":0.667,"t":-48,"x":1012,"y":955},
{"r":0.7,"t":24,"x":875,"y":782},{"r":0.7,"t":18,"x":902,"y":783},{"r":0.7,"t":12,"x":927,"y":784},{"r":0.7,"t":6,"x":949,"y":786},{"r":0.7,"t":0,"x":970,"y":793},{"r":0.7,"t":-6,"x":987,"y":811},{"r":0.7,"t":-12,"x":1002,"y":834},{"r":0.7,"t":-18,"x":1014,"y":858},{"r":0.7,"t":-24,"x":1023,"y":880},{"r":0.7,"t":-30,"x":1029,"y":901},{"r":0.7,"t":-36,"x":1031,"y":921},{"r":0.7,"t":-42,"x":1030,"y":939},{"r":0.7,"t":-48,"x":1026,"y":957},
{"r":0.733,"t":24,"x":882,"y":778},{"r":0.733,"t":18,"x":910,"y":777},{"r":0.733,"t":12,"x":936,"y":776},{"r":0.733,"t":6,"x":960,"y":775},{"r":0.733,"t":0,"x":981,"y":780},{"r":0.733,"t":-6,"x":999,"y":801},{"r":0.733,"t":-12,"x":1015,"y":828},{"r":0.733,"t":-18,"x":1028,"y":855},{"r":0.733,"t":-24,"x":1037,"y":880},{"r":0.733,"t":-30,"x":1043,"y":902},{"r":0.733,"t":-36,"x":1045,"y":922},{"r":0.733,"t":-42,"x":1044,"y":941},{"r":0.733,"t":-48,"x":1040,"y":959},
{"r":0.767,"t":24,"x":889,"y":772},{"r":0.767,"t":18,"x":918,"y":772},{"r":0.767,"t":12,"x":945,"y":768},{"r":0.767,"t":6,"x":970,"y":763},{"r":0.767,"t":0,"x":993,"y":765},{"r":0.767,"t":-6,"x":1012,"y":791},{"r":0.767,"t":-12,"x":1028,"y":823},{"r":0.767,"t":-18,"x":1041,"y":854},{"r":0.767,"t":-24,"x":1051,"y":880},{"r":0.767,"t":-30,"x":1057,"y":902},{"r":0.767,"t":-36,"x":1060,"y":923},{"r":0.767,"t":-42,"x":1058,"y":943},{"r":0.767,"t":-48,"x":1054,"y":961},
{"r":0.8,"t":24,"x":895,"y":767},{"r":0.8,"t":18,"x":926,"y":768},{"r":0.8,"t":12,"x":955,"y":762},{"r":0.8,"t":6,"x":981,"y":751},{"r":0.8,"t":0,"x":1004,"y":749},{"r":0.8,"t":-6,"x":1024,"y":780},{"r":0.8,"t":-12,"x":1041,"y":819},{"r":0.8,"t":-18,"x":1055,"y":853},{"r":0.8,"t":-24,"x":1065,"y":879},{"r":0.8,"t":-30,"x":1071,"y":903},{"r":0.8,"t":-36,"x":1074,"y":924},{"r":0.8,"t":-42,"x":1073,"y":945},{"r":0.8,"t":-48,"x":1068,"y":964},
{"r":0.833,"t":24,"x":902,"y":763},{"r":0.833,"t":18,"x":934,"y":764},{"r":0.833,"t":12,"x":964,"y":757},{"r":0.833,"t":6,"x":991,"y":737},{"r":0.833,"t":0,"x":1015,"y":727},{"r":0.833,"t":-6,"x":1036,"y":767},{"r":0.833,"t":-12,"x":1054,"y":817},{"r":0.833,"t":-18,"x":1068,"y":852},{"r":0.833,"t":-24,"x":1079,"y":879},{"r":0.833,"t":-30,"x":1085,"y":904},{"r":0.833,"t":-36,"x":1088,"y":926},{"r":0.833,"t":-42,"x":1087,"y":946},{"r":0.833,"t":-48,"x":1082,"y":966},
{"r":0.867,"t":24,"x":909,"y":759},{"r":0.867,"t":18,"x":943,"y":762},{"r":0.867,"t":12,"x":973,"y":755},{"r":0.867,"t":6,"x":1001,"y":725},{"r":0.867,"t":0,"x":1027,"y":694},{"r":0.867,"t":-6,"x":1048,"y":756},{"r":0.867,"t":-12,"x":1067,"y":817},{"r":0.867,"t":-18,"x":1082,"y":854},{"r":0.867,"t":-24,"x":1093,"y":881},{"r":0.867,"t":-30,"x":1099,"y":905},{"r":0.867,"t":-36,"x":1103,"y":927},{"r":0.867,"t":-42,"x":1101,"y":948},{"r":0.867,"t":-48,"x":1096,"y":968},
{"r":0.9,"t":24,"x":916,"y":756},{"r":0.9,"t":18,"x":951,"y":760},{"r":0.9,"t":12,"x":983,"y":755},{"r":0.9,"t":6,"x":1012,"y":716},{"r":0.9,"t":0,"x":1038,"y":643},{"r":0.9,"t":-6,"x":1060,"y":749},{"r":0.9,"t":-12,"x":1080,"y":820},{"r":0.9,"t":-18,"x":1095,"y":855},{"r":0.9,"t":-24,"x":1107,"y":882},{"r":0.9,"t":-30,"x":1114,"y":906},{"r":0.9,"t":-36,"x":1117,"y":928},{"r":0.9,"t":-42,"x":1115,"y":950},{"r":0.9,"t":-48,"x":1110,"y":971},
{"r":0.933,"t":24,"x":923,"y":754},{"r":0.933,"t":18,"x":959,"y":759},{"r":0.933,"t":12,"x":992,"y":758},{"r":0.933,"t":6,"x":1022,"y":715},{"r":0.933,"t":0,"x":1049,"y":548},{"r":0.933,"t":-6,"x":1072,"y":748},{"r":0.933,"t":-12,"x":1093,"y":825},{"r":0.933,"t":-18,"x":1108,"y":858},{"r":0.933,"t":-24,"x":1120,"y":884},{"r":0.933,"t":-30,"x":1128,"y":907},{"r":0.933,"t":-36,"x":1131,"y":930},{"r":0.933,"t":-42,"x":1129,"y":952},{"r":0.933,"t":-48,"x":1124,"y":973},
{"r":0.967,"t":24,"x":930,"y":750},{"r":0.967,"t":18,"x":967,"y":760},{"r":0.967,"t":12,"x":1001,"y":766},{"r":0.967,"t":6,"x":1033,"y":743},{"r":0.967,"t":0,"x":1061,"y":263},{"r":0.967,"t":-6,"x":1085,"y":777},{"r":0.967,"t":-12,"x":1106,"y":835},{"r":0.967,"t":-18,"x":1122,"y":863},{"r":0.967,"t":-24,"x":1135,"y":886},{"r":0.967,"t":-30,"x":1142,"y":909},{"r":0.967,"t":-36,"x":1146,"y":932},{"r":0.967,"t":-42,"x":1144,"y":954},{"r":0.967,"t":-48,"x":1138,"y":977},
{"r":1,"t":-12,"x":1119,"y":846},{"r":1,"t":-18,"x":1136,"y":866},{"r":1,"t":-24,"x":1148,"y":888},{"r":1,"t":-30,"x":1156,"y":910},{"r":1,"t":-36,"x":1160,"y":933},{"r":1,"t":-42,"x":1158,"y":955},{"r":1,"t":-48,"x":1152,"y":978}]
},
"hconcat":[
{"width":1680,"height":1737,"resolve":{"scale":{"y":"independent"}},
"encoding":{"x":{"field":"x","type":"quantitative","axis":null,"scale":{"domain":[0,1680],"nice":false,"zero":false}},"y":{"field":"y","type":"quantitative","axis":null,"scale":{"domain":[0,1737],"range":[0,1737]}}},
"layer":[
{"data":{"name":"dots"},"mark":{"type":"rule","strokeWidth":2,"strokeDash":[2,21],"color":"#222"},"encoding":{"x2":{"field":"x2"},"y2":{"field":"y2"}}},
{"data":{"name":"la"},"mark":{"type":"rule","strokeWidth":2,"strokeDash":[2,21],"color":"#222"},"encoding":{"x2":{"field":"x2"},"y2":{"field":"y2"}}},
{"data":{"name":"ring"},"transform":[{"filter":"datum.k==0"}],"mark":{"type":"line","strokeWidth":0,"interpolate":"cardinal-closed"},"encoding":{"order":{"value":null},"fill":{"value":"#00f0e8"}}},
{"data":{"name":"cell"},"mark":{"type":"line","strokeWidth":0},"encoding":{"detail":{"field":"v"},"order":{"value":null},"fill":{"field":"v","type":"quantitative","legend":null,"scale":{"domain":[-6.4,-4.267,-2.133,0,2.133,4.267,6.4],"range":["#ff0000","#ffff00","#00ff00","#00ffff","#0000ff","#ff00ff","#ff0000"]}}}},
{"data":{"name":"ring"},"mark":{"type":"line","stroke":"#000","strokeWidth":2.2,"interpolate":"cardinal-closed"},"encoding":{"detail":{"field":"k"},"order":{"value":null}}},
{"data":{"name":"spoke"},"mark":{"type":"line","stroke":"#000","strokeWidth":2.2,"interpolate":"cardinal"},"encoding":{"detail":{"field":"s"},"order":{"value":null}}},
{"data":{"name":"ring"},"transform":[{"filter":"datum.k==36"}],"mark":{"type":"line","stroke":"#000","interpolate":"cardinal-closed"},"encoding":{"order":{"value":null},"fill":{"value":"#000"}}},
{"data":{"name":"bf"},"mark":{"type":"line","strokeWidth":0},"encoding":{"detail":{"field":"v"},"order":{"value":null},"fill":{"field":"v","type":"quantitative","legend":null}}},
{"data":{"name":"g"},"transform":[{"filter":"datum.t>=0&&datum.r>0.6"}],"mark":{"type":"line","stroke":"#000","strokeWidth":2.2},"encoding":{"detail":{"field":"r"},"order":{"value":null}}},
{"data":{"name":"g"},"transform":[{"filter":"datum.t>=0"}],"mark":{"type":"line","stroke":"#000","strokeWidth":2.2},"encoding":{"detail":{"field":"t"},"order":{"value":null}}},
{"data":{"name":"ff"},"mark":{"type":"line","strokeWidth":0},"encoding":{"detail":{"field":"v"},"order":{"value":null},"fill":{"field":"v","type":"quantitative","legend":null}}},
{"data":{"name":"g"},"transform":[{"filter":"datum.t<=0&&datum.r>0.6"}],"mark":{"type":"line","stroke":"#000","strokeWidth":2.2},"encoding":{"detail":{"field":"r"},"order":{"value":null}}},
{"data":{"name":"g"},"transform":[{"filter":"datum.t<=0"}],"mark":{"type":"line","stroke":"#000","strokeWidth":2.2},"encoding":{"detail":{"field":"t"},"order":{"value":null}}},
{"data":{"name":"bar"},"transform":[{"calculate":"1404","as":"x"},{"calculate":"1492","as":"x2"}],"mark":{"type":"rect"},"encoding":{"x2":{"field":"x2"},"y":{"field":"v","type":"ordinal","sort":"descending","axis":null,"scale":{"range":[70,1414],"paddingInner":0,"paddingOuter":0}},"fill":{"field":"v","type":"quantitative","legend":null}}},
{"data":{"name":"ax"},"mark":{"type":"rule","strokeWidth":2.6,"color":"#000"},"encoding":{"x2":{"field":"x2"},"y2":{"field":"y2"}}},
{"data":{"name":"ta"},"mark":{"type":"rule","strokeWidth":2.6,"color":"#000"},"encoding":{"x2":{"field":"x2"},"y2":{"field":"y2"}}},
{"data":{"name":"txa"},"mark":{"type":"text","font":"Liberation Sans","fontSize":48,"baseline":"middle","align":"center"},"encoding":{"text":{"field":"t"}}},
{"data":{"values":[{"x":741,"y":1672,"t":"(a )"}]},"mark":{"type":"text","font":"Liberation Serif","fontWeight":"bold","fontSize":72,"baseline":"middle","align":"center"},"encoding":{"text":{"field":"t"}}}
]},
{"width":1680,"height":1737,"resolve":{"scale":{"y":"independent"}},
"encoding":{"x":{"field":"x","type":"quantitative","axis":null,"scale":{"domain":[-72.5,1607.5],"nice":false,"zero":false}},"y":{"field":"y","type":"quantitative","axis":null,"scale":{"domain":[0,1737],"range":[0,1737]}}},
"layer":[
{"data":{"name":"dots"},"mark":{"type":"rule","strokeWidth":2,"strokeDash":[2,21],"color":"#222"},"encoding":{"x2":{"field":"x2"},"y2":{"field":"y2"}}},
{"data":{"name":"lb"},"mark":{"type":"rule","strokeWidth":2,"strokeDash":[2,21],"color":"#222"},"encoding":{"x2":{"field":"x2"},"y2":{"field":"y2"}}},
{"data":{"name":"sl"},"mark":{"type":"line","stroke":"#00e5ff","strokeWidth":3,"interpolate":"cardinal"},"encoding":{"order":{"value":null}}},
{"data":{"name":"ring"},"transform":[{"filter":"datum.k==0"}],"mark":{"type":"line","strokeWidth":0,"interpolate":"cardinal-closed"},"encoding":{"y":{"field":"y","type":"quantitative","axis":null,"scale":{"domain":[0,722,927,1152,1737],"range":[59,781,991,1226,1811]}},"order":{"value":null},"fill":{"value":"#00f0e8"}}},
{"data":{"name":"cell"},"mark":{"type":"line","strokeWidth":0},"encoding":{"y":{"field":"y","type":"quantitative","axis":null,"scale":{"domain":[0,722,927,1152,1737],"range":[59,781,991,1226,1811]}},"detail":{"field":"v"},"order":{"value":null},"fill":{"field":"v","type":"quantitative","legend":null,"scale":{"domain":[-6.4,-4.267,-2.133,0,2.133,4.267,6.4],"range":["#ff0000","#ffff00","#00ff00","#00ffff","#0000ff","#ff00ff","#ff0000"]}}}},
{"data":{"name":"ring"},"mark":{"type":"line","stroke":"#000","strokeWidth":2.2,"interpolate":"cardinal-closed"},"encoding":{"y":{"field":"y","type":"quantitative","axis":null,"scale":{"domain":[0,722,927,1152,1737],"range":[59,781,991,1226,1811]}},"detail":{"field":"k"},"order":{"value":null}}},
{"data":{"name":"spoke"},"mark":{"type":"line","stroke":"#000","strokeWidth":2.2,"interpolate":"cardinal"},"encoding":{"y":{"field":"y","type":"quantitative","axis":null,"scale":{"domain":[0,722,927,1152,1737],"range":[59,781,991,1226,1811]}},"detail":{"field":"s"},"order":{"value":null}}},
{"data":{"name":"ring"},"transform":[{"filter":"datum.k==36"}],"mark":{"type":"line","stroke":"#000","interpolate":"cardinal-closed"},"encoding":{"y":{"field":"y","type":"quantitative","axis":null,"scale":{"domain":[0,722,927,1152,1737],"range":[59,781,991,1226,1811]}},"order":{"value":null},"fill":{"value":"#000"}}},
{"data":{"name":"bf"},"mark":{"type":"line","strokeWidth":0},"encoding":{"y":{"field":"y","type":"quantitative","axis":null,"scale":{"domain":[0,263,548,643,694,730,801,1737],"range":[0,261,559,664,718,775,862,1798]}},"detail":{"field":"v"},"order":{"value":null},"fill":{"field":"v","type":"quantitative","legend":null}}},
{"data":{"name":"g"},"transform":[{"filter":"datum.t>=0&&datum.r>0.6"}],"mark":{"type":"line","stroke":"#000","strokeWidth":2.2},"encoding":{"y":{"field":"y","type":"quantitative","axis":null,"scale":{"domain":[0,263,548,643,694,730,801,1737],"range":[0,261,559,664,718,775,862,1798]}},"detail":{"field":"r"},"order":{"value":null}}},
{"data":{"name":"g"},"transform":[{"filter":"datum.t>=0"}],"mark":{"type":"line","stroke":"#000","strokeWidth":2.2},"encoding":{"y":{"field":"y","type":"quantitative","axis":null,"scale":{"domain":[0,263,548,643,694,730,801,1737],"range":[0,261,559,664,718,775,862,1798]}},"detail":{"field":"t"},"order":{"value":null}}},
{"data":{"name":"ff"},"mark":{"type":"line","strokeWidth":0},"encoding":{"y":{"field":"y","type":"quantitative","axis":null,"scale":{"domain":[0,263,548,643,694,750,814,850,933,978,1152,1737],"range":[0,261,559,664,718,772,850,895,990,1030,1226,1811]}},"detail":{"field":"v"},"order":{"value":null},"fill":{"field":"v","type":"quantitative","legend":null}}},
{"data":{"name":"g"},"transform":[{"filter":"datum.t<=0&&datum.r>0.6"}],"mark":{"type":"line","stroke":"#000","strokeWidth":2.2},"encoding":{"y":{"field":"y","type":"quantitative","axis":null,"scale":{"domain":[0,263,548,643,694,750,814,850,933,978,1152,1737],"range":[0,261,559,664,718,772,850,895,990,1030,1226,1811]}},"detail":{"field":"r"},"order":{"value":null}}},
{"data":{"name":"g"},"transform":[{"filter":"datum.t<=0"}],"mark":{"type":"line","stroke":"#000","strokeWidth":2.2},"encoding":{"y":{"field":"y","type":"quantitative","axis":null,"scale":{"domain":[0,263,548,643,694,750,814,850,933,978,1152,1737],"range":[0,261,559,664,718,772,850,895,990,1030,1226,1811]}},"detail":{"field":"t"},"order":{"value":null}}},
{"data":{"name":"bar"},"transform":[{"calculate":"1404","as":"x"},{"calculate":"1492","as":"x2"}],"mark":{"type":"rect"},"encoding":{"x2":{"field":"x2"},"y":{"field":"v","type":"ordinal","sort":"descending","axis":null,"scale":{"range":[70,1414],"paddingInner":0,"paddingOuter":0}},"fill":{"field":"v","type":"quantitative","legend":null}}},
{"data":{"name":"ax"},"mark":{"type":"rule","strokeWidth":2.6,"color":"#000"},"encoding":{"x2":{"field":"x2"},"y2":{"field":"y2"}}},
{"data":{"name":"tb"},"mark":{"type":"rule","strokeWidth":2.6,"color":"#000"},"encoding":{"x2":{"field":"x2"},"y2":{"field":"y2"}}},
{"data":{"name":"txb"},"mark":{"type":"text","font":"Liberation Sans","fontSize":48,"baseline":"middle","align":"center"},"encoding":{"text":{"field":"t"}}},
{"data":{"values":[{"x":737,"y":1672,"t":"(b)"}]},"mark":{"type":"text","font":"Liberation Serif","fontWeight":"bold","fontSize":72,"baseline":"middle","align":"center"},"encoding":{"text":{"field":"t"}}}
]}
]}
